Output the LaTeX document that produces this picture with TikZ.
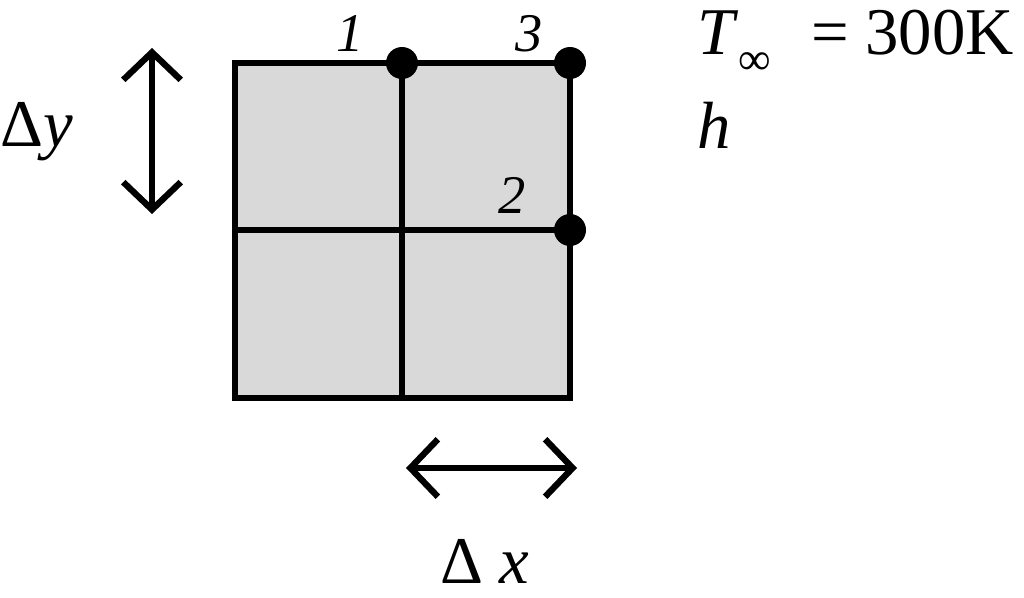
\documentclass[tikz,border=0pt]{standalone}
\usepackage{fontspec}
\setmainfont{Liberation Serif}
\usetikzlibrary{arrows.meta}
\begin{document}
\begin{tikzpicture}[x=0.02cm,y=-0.02cm,
  grid/.style={line width=3.4pt},
  dot/.style={circle,fill=black,inner sep=0pt,minimum size=0.64cm},
  lab/.style={font=\fontsize{31}{33}\selectfont\itshape,inner sep=0pt},
  big/.style={font=\fontsize{38}{40}\selectfont,inner sep=0pt,anchor=west},
  dim/.style={line width=3.6pt,{Straight Barb[length=0.55cm,width=1.15cm]}-{Straight Barb[length=0.55cm,width=1.15cm]}}]
\useasboundingbox (0,0) rectangle (1024,598);
\fill[gray!30] (235,63) rectangle (570,398);
\draw[grid,line cap=round] (235,63) rectangle (570,398);
\draw[grid] (402,63) -- (402,398) (235,230) -- (570,230);
\node[dot] (n1) at (402,63) {};
\node[dot] (n3) at (570,63) {};
\node[dot] (n2) at (570,230) {};
\node[lab] (l1) at (350,34) {1};
\node[lab] (l3) at (529,34) {3};
\node[lab] (l2) at (512,195) {2};
\coordinate (va) at (152,48); \coordinate (vb) at (152,214);
\draw[dim] (va) -- (vb);
\coordinate (ha) at (406,468); \coordinate (hb) at (577,468);
\draw[dim] (ha) -- (hb);
\node[big] (dy) at (0,132) {Δ\textit{y}};
\node[big] (dx) at (440,561) {Δ \textit{x}};
\node[big] (T) at (697,42) {\textit{T}\raisebox{-0.3em}{\fontsize{26}{26}\selectfont ∞}\hspace{0.6em}= 300K};
\node[big] (h) at (697,125) {\textit{h}};
\end{tikzpicture}
\end{document}
